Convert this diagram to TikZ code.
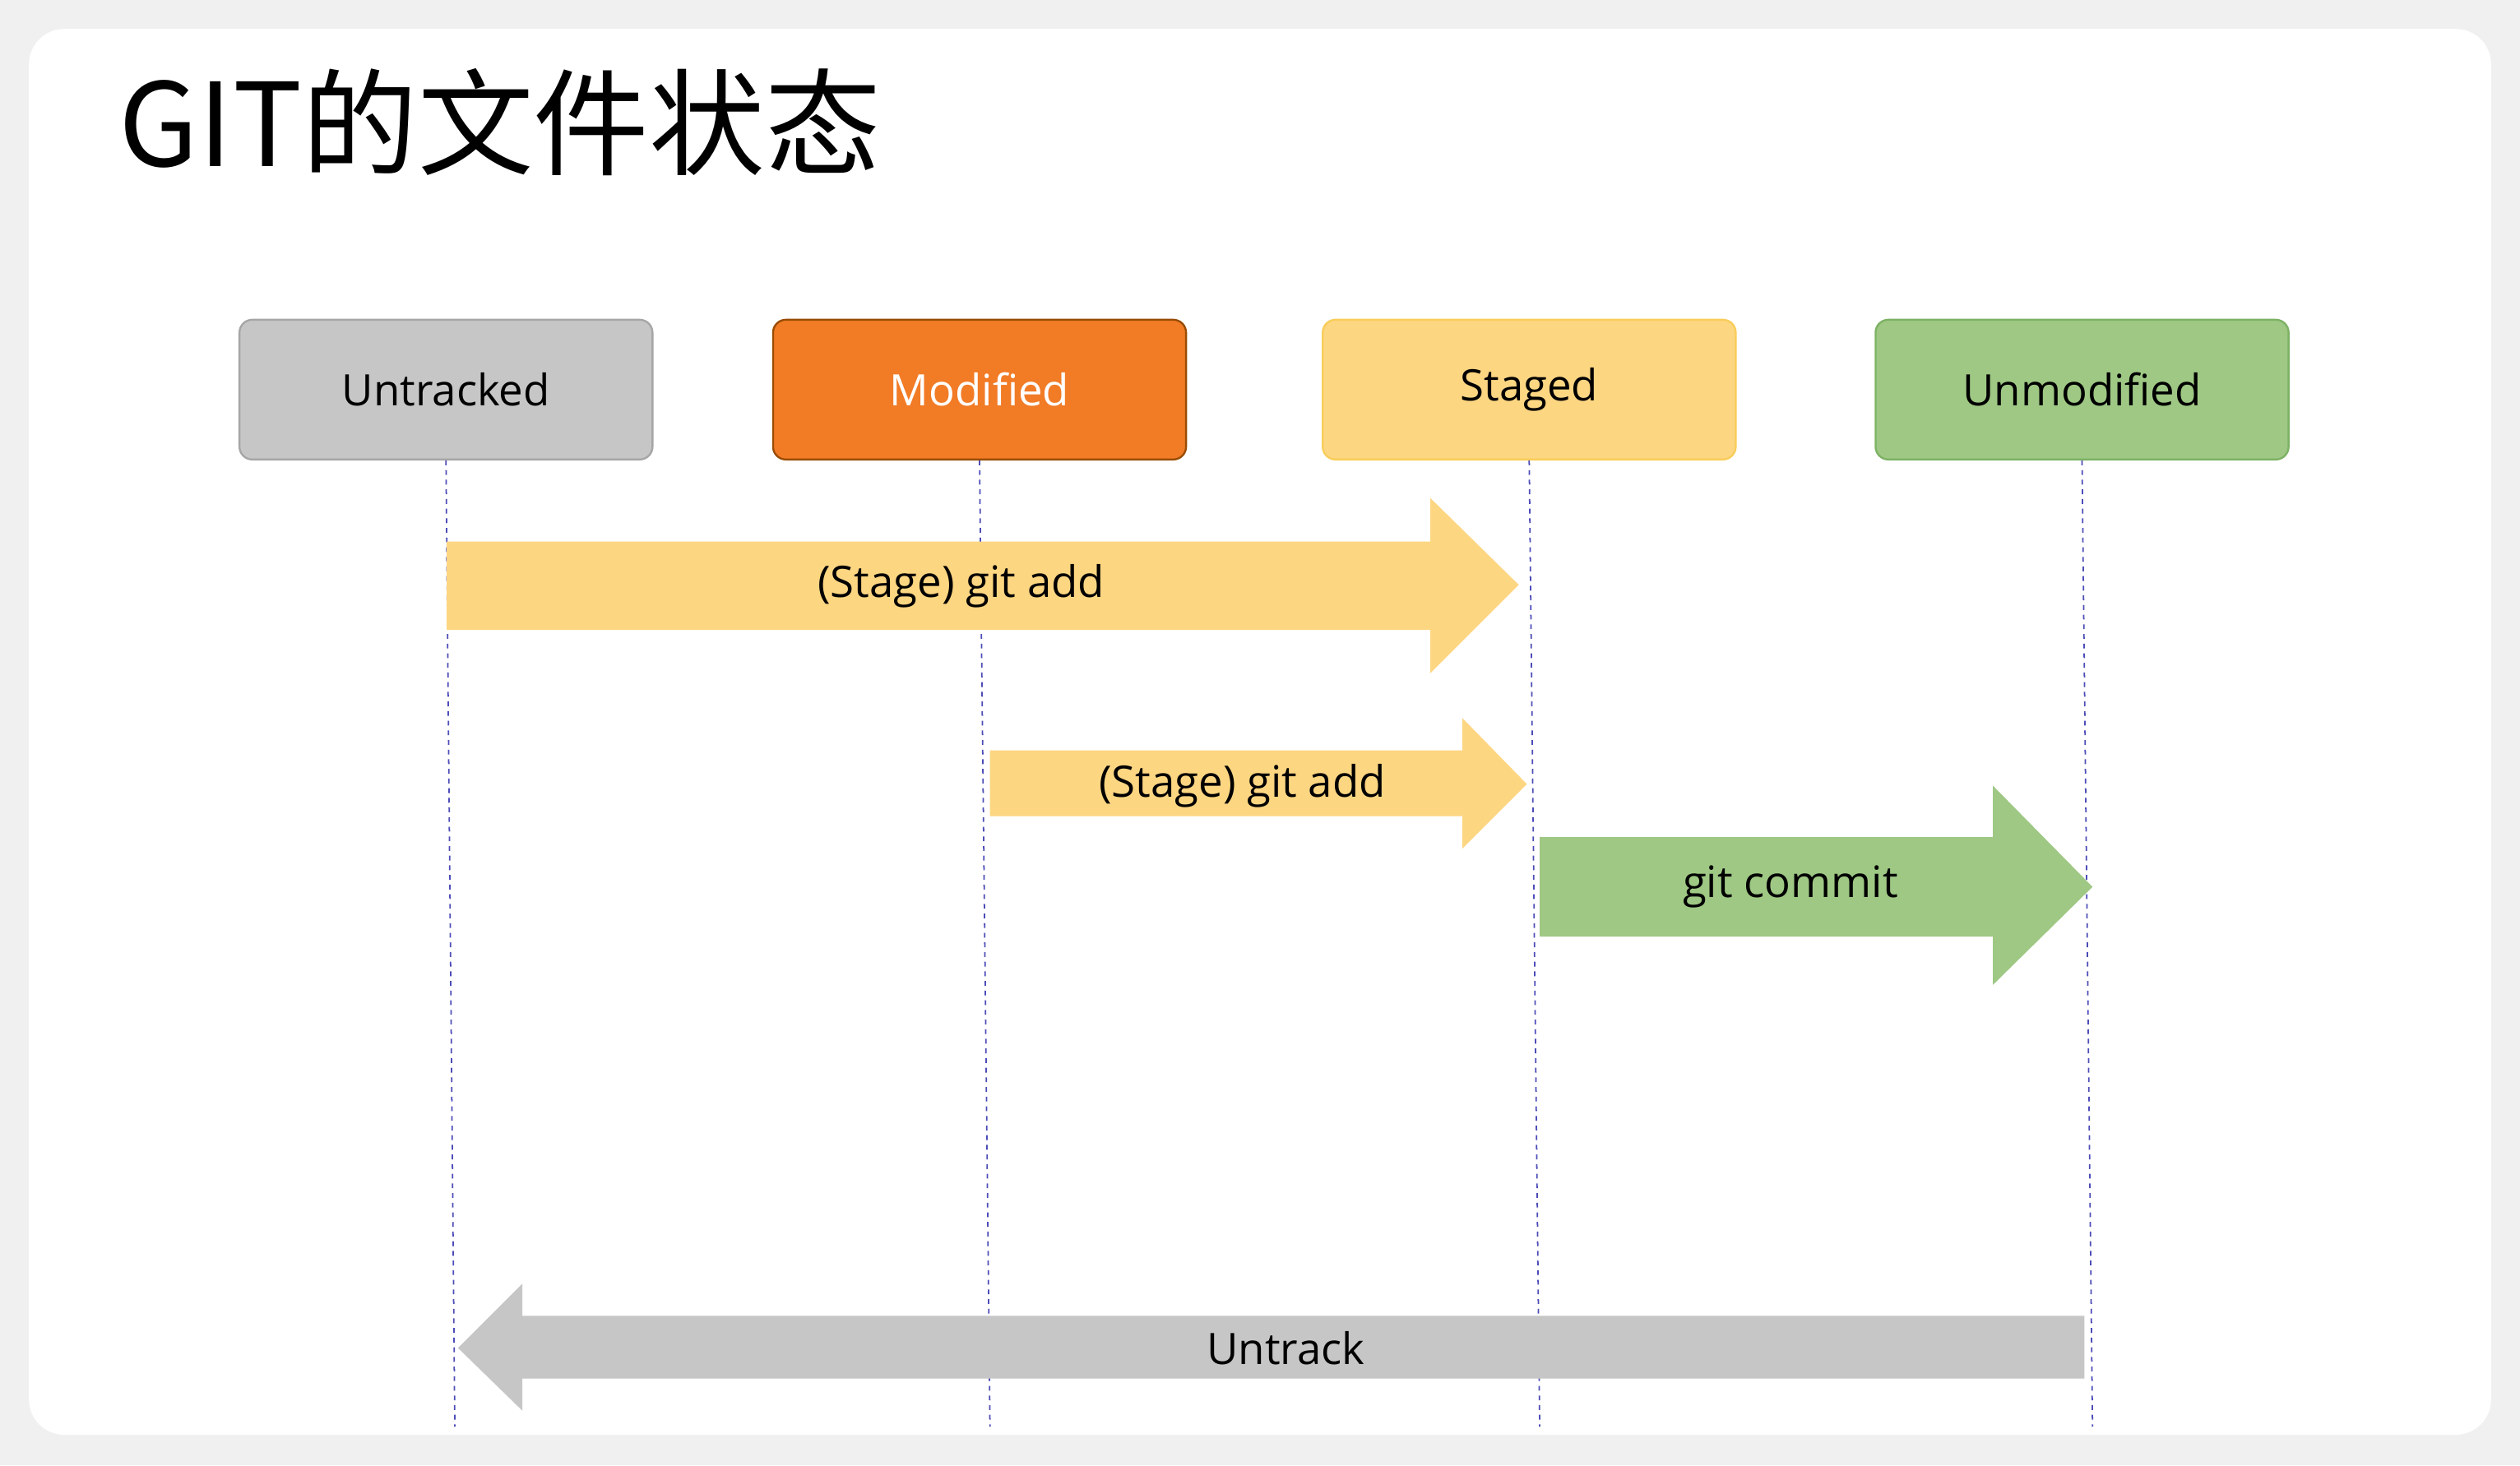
\documentclass[tikz,border=0pt]{standalone}
\usepackage{fontspec}
\setmainfont{Open Sans}
\newfontfamily\cjk{Noto Sans CJK SC}
\definecolor{stg}{RGB}{253,214,130}
\definecolor{stgd}{RGB}{248,205,90}
\definecolor{grn}{RGB}{158,200,132}
\definecolor{grnd}{RGB}{125,178,100}
\definecolor{org}{RGB}{242,123,38}
\begin{document}
\begin{tikzpicture}[x=1pt,y=-1pt,
  box/.style={draw,rounded corners=8pt,line width=1.2pt,minimum width=257pt,minimum height=87pt,font=\fontsize{27}{30}\selectfont,inner sep=0pt},
  life/.style={draw=blue!60!black!70,dash pattern=on 3pt off 3pt,line width=0.9pt},
  lbl/.style={font=\fontsize{27}{30}\selectfont,inner sep=0pt}]
\useasboundingbox (0,0) rectangle (1568,912);
\fill[gray!12] (0,0) rectangle (1568,912);
\fill[white,rounded corners=22pt] (18,18) rectangle (1550,893);
\node[anchor=west,font=\cjk\fontsize{72}{80}\selectfont,inner sep=0pt] (title) at (74,76) {GIT的文件状态};
\node[box,draw=gray!70,fill=gray!45] (u) at (277.5,242.5) {Untracked};
\node[box,draw=orange!60!black,fill=org,text=white] (m) at (609.5,242.5) {Modified};
\node[box,draw=stgd,fill=stg] (s) at (951.5,242.5) {Staged};
\node[box,draw=grnd,fill=grn] (um) at (1295.5,242.5) {Unmodified};
\coordinate (ue) at (283,888); \coordinate (me) at (616,888);
\coordinate (se) at (958,888); \coordinate (ume) at (1302,888);
\draw[life] (u.south) -- (ue); \draw[life] (m.south) -- (me);
\draw[life] (s.south) -- (se); \draw[life] (um.south) -- (ume);
\fill[stg] (278,337) -- (890,337) -- (890,310) -- (945,364) -- (890,419) -- (890,392) -- (278,392) -- cycle;
\node[lbl] (a1) at (598,365) {(Stage) git add};
\fill[stg] (616,467) -- (910,467) -- (910,447) -- (950,488) -- (910,528) -- (910,508) -- (616,508) -- cycle;
\node[lbl] (a2) at (773,489) {(Stage) git add};
\fill[grn] (958,521) -- (1240,521) -- (1240,489) -- (1302,552) -- (1240,613) -- (1240,583) -- (958,583) -- cycle;
\node[lbl] (a3) at (1114,552) {git commit};
\fill[gray!45] (1297,819) -- (325,819) -- (325,799) -- (285,839) -- (325,878) -- (325,858) -- (1297,858) -- cycle;
\node[lbl] (a4) at (800,839) {Untrack};
\end{tikzpicture}
\end{document}
